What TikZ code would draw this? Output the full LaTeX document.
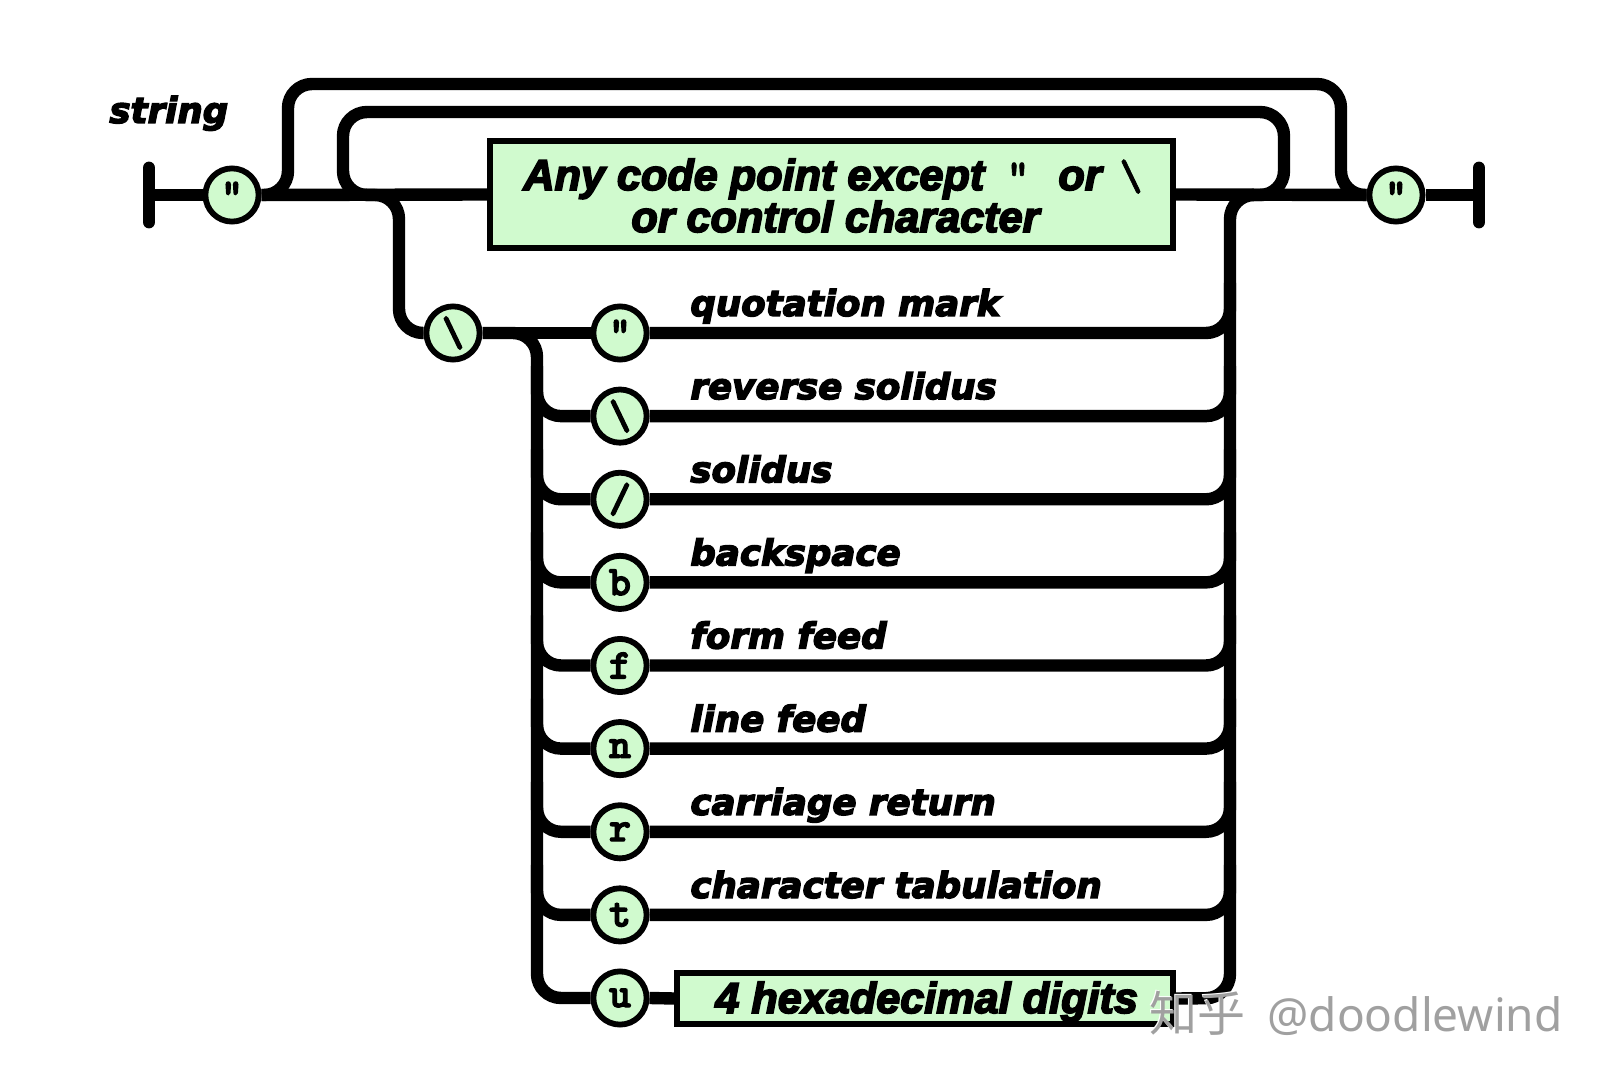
\documentclass[tikz,border=0pt]{standalone}
\usepackage{fontspec}
\newfontfamily\labfont{DejaVu Sans}[BoldItalicFeatures={FakeBold=4}]
\newfontfamily\boxfont{Liberation Sans}[BoldItalicFeatures={FakeBold=4}]
\newfontfamily\monofont{lmmonolt10-bold.otf}[Ligatures=TeXOff, FakeBold=3]
\newfontfamily\boxmono{lmmonolt10-bold.otf}[Ligatures=TeXOff, FakeBold=1.5]
\newfontfamily\cjkfont{Noto Sans CJK SC}
\newfontfamily\wmfont{Noto Sans}
\definecolor{jgreen}{RGB}{208,250,206}
\definecolor{wmgray}{RGB}{160,160,160}
\pgfdeclarelayer{bg}
\pgfdeclarelayer{rails}
\pgfsetlayers{bg,rails,main}
\begin{document}
\begin{tikzpicture}[x=0.5pt,y=-0.5pt,
  rail/.style={line width=6.2pt, rounded corners=12pt},
  termbar/.style={line width=6.4pt, line cap=round},
  circ/.style={circle, draw, line width=2.9pt, fill=jgreen, minimum size=26.6pt, inner sep=0pt,
    font=\monofont\fontsize{21}{21}\selectfont},
  gbox/.style={draw, line width=3.2pt, fill=jgreen, inner sep=0pt},
  lab/.style={anchor=base west, inner sep=0pt, font=\labfont\bfseries\itshape\fontsize{17.8}{20}\selectfont},
  btext/.style={inner sep=0pt, font=\boxfont\bfseries\itshape\fontsize{21.6}{24}\selectfont},
  bmono/.style={inner sep=0pt, font=\boxmono\fontsize{22}{24}\selectfont},
  wm/.style={anchor=base west, inner sep=0pt, text=wmgray},
]
\begin{pgfonlayer}{bg}
\fill[white] (0,0) rectangle (1608,1080);
\end{pgfonlayer}
\useasboundingbox (0,0) rectangle (1608,1080);

% title
\node[lab] (title) at (109,123) {string};

% main nodes
\node[circ] (q1) at (232,195) {"};
\node[circ] (q2) at (1396,195) {"};
\node[gbox, minimum width=341.3pt, minimum height=53.3pt] (box1) at (831.5,194.5) {};
\node[btext, anchor=base west] (b1a) at (523,190) {Any code point except};
\node[bmono, anchor=base] (b1q) at (1018,190) {"};
\node[btext, anchor=base west] (b1b) at (1058,190) {or};
\node[bmono, anchor=base] (b1s) at (1131,190) {\textbackslash};
\node[btext, anchor=base west] (b1c) at (631,232) {or control character};

\node[circ] (bs) at (453,333) {\textbackslash};

% escape circles
\node[circ] (e1) at (620,333) {"};
\node[circ] (e2) at (620,416.1) {\textbackslash};
\node[circ] (e3) at (620,499.3) {/};
\node[circ] (e4) at (620,582.4) {b};
\node[circ] (e5) at (620,665.5) {f};
\node[circ] (e6) at (620,748.6) {n};
\node[circ] (e7) at (620,831.8) {r};
\node[circ] (e8) at (620,914.9) {t};
\node[circ] (e9) at (620,998) {u};

\node[gbox, minimum width=247.8pt, minimum height=25.3pt] (box2) at (925,998.5) {};
\node[btext, anchor=base west] (b2t) at (715,1013) {4 hexadecimal digits};

% labels
\node[lab] (l1) at (690,316) {quotation mark};
\node[lab] (l2) at (690,399.1) {reverse solidus};
\node[lab] (l3) at (690,482.3) {solidus};
\node[lab] (l4) at (690,565.4) {backspace};
\node[lab] (l5) at (690,648.5) {form feed};
\node[lab] (l6) at (690,731.6) {line feed};
\node[lab] (l7) at (690,814.8) {carriage return};
\node[lab] (l8) at (690,897.9) {character tabulation};

% terminators
\coordinate (tl) at (149,195);
\coordinate (tr) at (1479,195);
\coordinate (tlt) at (149,168);
\coordinate (tlb) at (149,222);
\coordinate (trt) at (1479,168);
\coordinate (trb) at (1479,222);

\begin{pgfonlayer}{rails}
  \draw[termbar] (tlt) -- (tlb);
  \draw[termbar] (trt) -- (trb);
  \draw[rail] (tl) -- (q1.west);
  \draw[rail] (q2.east) -- (tr);
  \draw[rail] (q1.east) -- (box1.west);
  \draw[rail] (box1.east) -- (q2.west);
  % outer loop
  \draw[rail] (q1.east) -- (288,195) -- (288,84) -- (1341,84) -- (1341,195) -- (q2.west);
  % inner loop
  \draw[rail] (1252,195) -- (1284,195) -- (1284,112) -- (343,112) -- (343,195) -- (375,195);
  % escape branch
  \draw[rail] (366,195) -- (399,195) -- (399,333) -- (bs.west);
  \draw[rail] (bs.east) -- (e1.west);
  \draw[rail] (bs.east) -- (537,333) -- (537,998) -- (e9.west);
  \draw[rail] (1264,195) -- (1230,195) -- (1230,998) -- (box2.east);
  \draw[rail] (e9.east) -- (box2.west);
  \foreach \n/\yy in {e2/416.1,e3/499.3,e4/582.4,e5/665.5,e6/748.6,e7/831.8,e8/914.9}{
    \draw[rail] (537,\yy-50) -- (537,\yy) -- (\n.west);
  }
  \foreach \n/\yy in {e1/333,e2/416.1,e3/499.3,e4/582.4,e5/665.5,e6/748.6,e7/831.8,e8/914.9}{
    \draw[rail] (\n.east) -- (1230,\yy) -- (1230,\yy-50);
  }
\end{pgfonlayer}

% watermark
\node[wm, text=white, font=\cjkfont\fontsize{24}{24}\selectfont] (wm1s) at (1148,1030) {知乎};
\node[wm, text=white, font=\wmfont\fontsize{23}{23}\selectfont] (wm2s) at (1266,1030) {@doodlewind};
\node[wm, font=\cjkfont\fontsize{24}{24}\selectfont] (wm1) at (1149,1031) {知乎};
\node[wm, font=\wmfont\fontsize{23}{23}\selectfont] (wm2) at (1267,1031) {@doodlewind};
\end{tikzpicture}
\end{document}
